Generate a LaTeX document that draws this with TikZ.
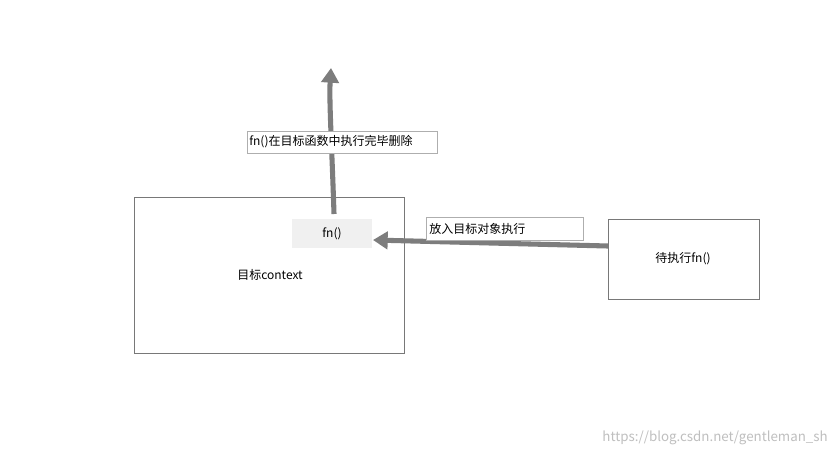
\documentclass[tikz,border=0pt]{standalone}
\usepackage{fontspec}
\setmainfont{Noto Sans CJK SC}
\usetikzlibrary{arrows.meta}
\definecolor{bd}{RGB}{120,120,120}
\definecolor{ar}{RGB}{125,125,125}
\definecolor{fil}{RGB}{240,240,240}
\begin{document}
\begin{tikzpicture}[x=0.75pt,y=-0.75pt,
  box/.style={draw=bd,line width=0.6pt},
  lbl/.style={draw=bd!60,line width=0.5pt,fill=white},
  txt/.style={font=\fontsize{9}{11}\selectfont,inner sep=0pt},
  bigarrow/.style={draw=ar,line width=3.8pt,-{Triangle[length=11pt,width=13pt]}}]
\useasboundingbox (0,0) rectangle (837,457);
\fill[white] (0,0) rectangle (837,457);
\draw[box] (134,197) rectangle (404,353);
\node[txt] (ctx) at (270,275) {目标context};
\fill[fil] (292,219) rectangle (372,248);
\node[txt] (fn) at (332,234) {fn()};
\draw[box] (608,219) rectangle (759,299);
\node[txt] (wait) at (683,259) {待执行fn()};
\coordinate (s1) at (608,246);
\coordinate (e1) at (373,240);
\draw[bigarrow] (s1) -- (e1);
\coordinate (s2) at (334,214);
\coordinate (e2) at (331,68);
\draw[bigarrow] (s2) .. controls (332,150) and (329,100) .. (e2);
\draw[lbl] (426,217) rectangle (583,240);
\node[txt,anchor=west] (l1) at (429,229) {放入目标对象执行};
\draw[lbl] (247,131) rectangle (437,153);
\node[txt,anchor=west] (l2) at (249,142) {fn()在目标函数中执行完毕删除};
\node[txt,text=gray!50,font=\fontsize{10}{12}\selectfont,anchor=east] (wm) at (828,438) {https://blog.csdn.net/gentleman\_sh};
\end{tikzpicture}
\end{document}
